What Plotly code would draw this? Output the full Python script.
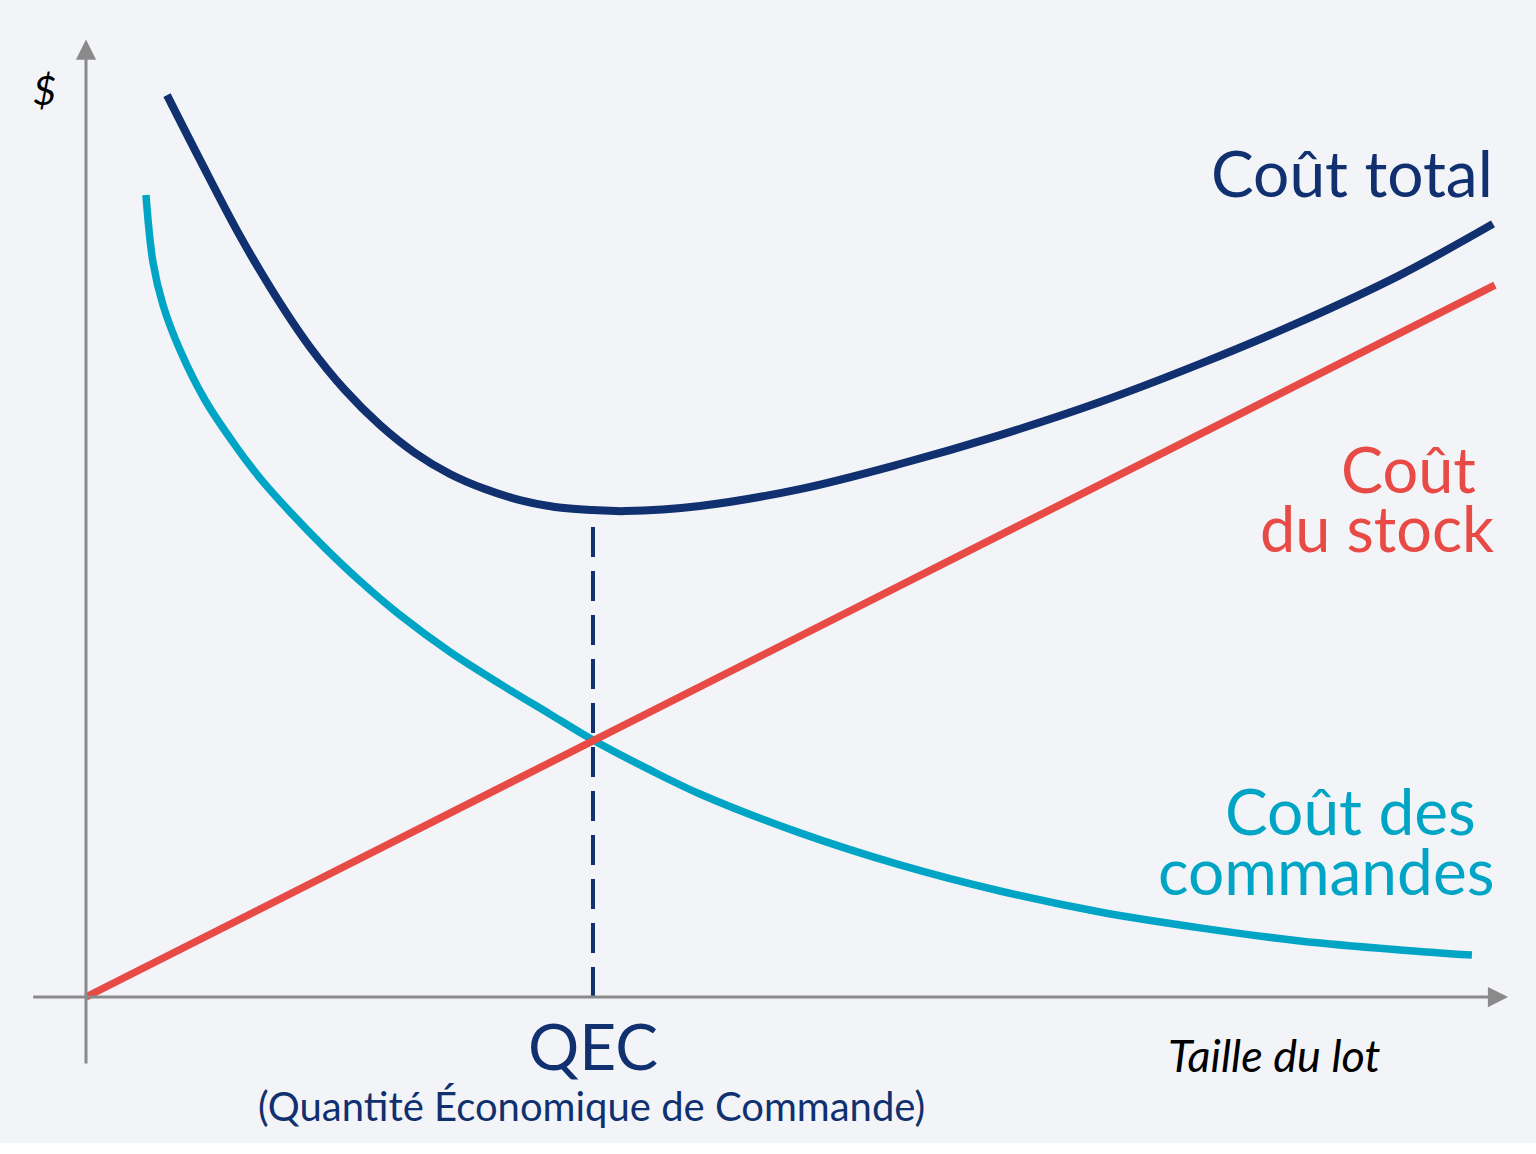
"""Courbe de la quantité économique de commande (QEC)."""

import plotly.graph_objects as go

# Taille du lot (QEC = 100) et coûts (coût du stock à la QEC = 100)
lot_total = [15.98, 22.49, 30.37, 37.28, 44.18, 51.08, 57.99, 64.89, 71.79, 78.70, 85.60, 92.50,
             100, 106.31, 121.1, 140.83, 160.55, 180.28, 200, 219.72, 239.45, 259.17, 277.51]
cout_total = [352.3, 327.0, 297.3, 274.2, 253.9, 237.1, 223.4, 212.5, 204.3, 198.4, 194.1, 191.4,
              190.2, 189.8, 191.8, 198.4, 208.2, 219.5, 232.4, 247.3, 263.7, 282.0, 302.0]

lot_commandes = [11.83, 13.21, 15.19, 18.54, 23.47, 29.39, 34.32, 40.24, 47.14, 54.04, 61.93, 71.79,
                 81.66, 91.52, 100, 111.24, 121.1, 140.83, 160.55, 180.28, 200, 219.72, 239.45,
                 259.17, 273.37]
cout_commandes = [313.3, 287.1, 270.3, 252.7, 233.2, 215.6, 202.7, 189.5, 175.4, 162.5, 149.2, 134.8,
                  122.3, 110.5, 100.4, 88.7, 79.3, 64.1, 51.6, 41.4, 33.2, 27.0, 21.9,
                  18.4, 16.4]

lot_stock = [0, 100, 277.9]
cout_stock = [0, 100, 278.1]

qec = 100
cout_total_qec = 189.8

NAVY = '#10306f'
CYAN = '#00a5c6'
RED = '#e84a45'
GREY = '#8a8a8a'
FONT = 'Lato'

fig = go.Figure()

fig.add_trace(go.Scatter(x=lot_commandes, y=cout_commandes, mode='lines',
                         line=dict(color=CYAN, width=7.5, shape='spline', smoothing=1)))
fig.add_trace(go.Scatter(x=lot_stock, y=cout_stock, mode='lines',
                         line=dict(color=RED, width=7.5)))
fig.add_trace(go.Scatter(x=lot_total, y=cout_total, mode='lines',
                         line=dict(color=NAVY, width=8, shape='spline', smoothing=1)))
# Ligne pointillée de la QEC
fig.add_trace(go.Scatter(x=[qec, qec], y=[0, cout_total_qec], mode='lines',
                         line=dict(color=NAVY, width=4, dash='30px,14px')))

# Axes avec flèches
fig.add_annotation(x=280.5, y=0, ax=-10.7, ay=0, axref='x', ayref='y', text='',
                   showarrow=True, arrowhead=2, arrowwidth=3, arrowsize=1.35,
                   arrowcolor=GREY, standoff=0)
fig.add_annotation(x=0, y=374, ax=0, ay=-26.6, axref='x', ayref='y', text='',
                   showarrow=True, arrowhead=2, arrowwidth=3, arrowsize=1.35,
                   arrowcolor=GREY, standoff=0)

labels = [
    ('Coût total', 278.0, 322.0, 'right', NAVY, 64, False),
    ('Coût', 274.5, 206.3, 'right', RED, 63, False),
    ('du stock', 278.1, 183.4, 'right', RED, 63, False),
    ('Coût des', 274.5, 72.8, 'right', CYAN, 64, False),
    ('commandes', 278.1, 49.3, 'right', CYAN, 64, False),
    ('QEC', 100, -19.1, 'center', NAVY, 64, False),
    ('(Quantité Économique de Commande)', 99.8, -42.4, 'center', NAVY, 40, False),
    ('Taille du lot', 255.6, -22.7, 'right', 'black', 45, True),
    ('$', -8.1, 354.3, 'center', 'black', 40, True),
]
for text, x, y, anchor, color, size, italic in labels:
    fig.add_annotation(x=x, y=y, text=f'<i>{text}</i>' if italic else text,
                       showarrow=False, xanchor=anchor, yanchor='middle',
                       font=dict(family=FONT, size=size, color=color))

fig.update_layout(
    width=1536, height=1154,
    margin=dict(l=0, r=0, t=0, b=11),
    paper_bgcolor='white',
    plot_bgcolor='#f3f4f8',
    showlegend=False,
    xaxis=dict(range=[-16.96, 286.0], visible=False, fixedrange=True),
    yaxis=dict(range=[-57.03, 389.45], visible=False, fixedrange=True),
)

fig.write_html("out.html", config={'displayModeBar': False},
               post_script="document.body.style.margin='0';")
